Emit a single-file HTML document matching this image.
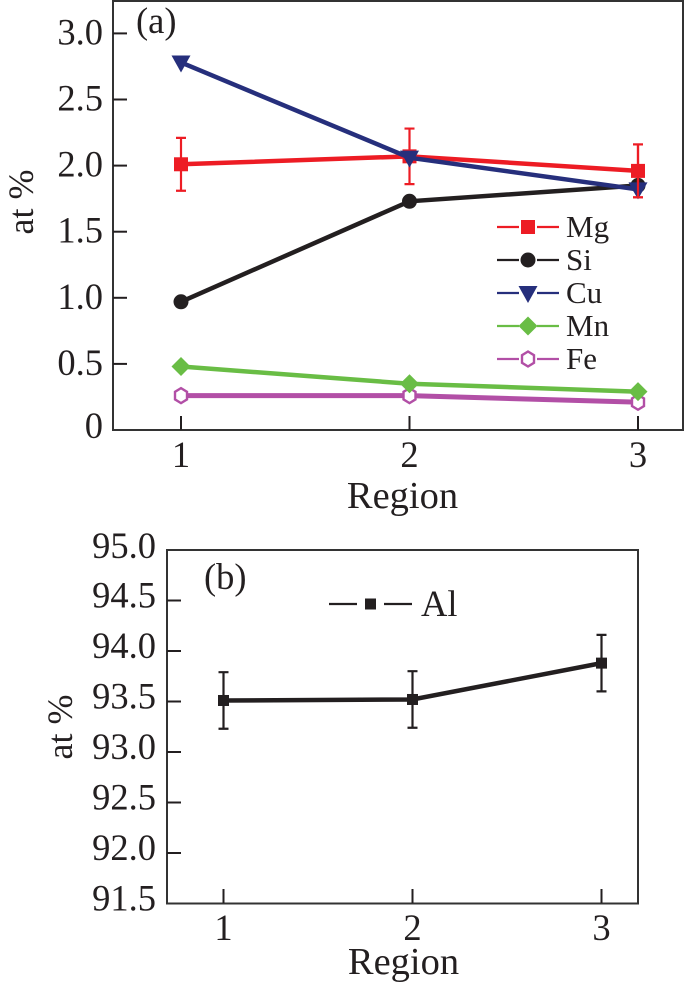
<!DOCTYPE html>
<html><head><meta charset="utf-8">
<style>html,body{margin:0;padding:0;background:#fff;width:685px;height:987px;overflow:hidden}svg{display:block}text{font-family:"Liberation Serif",serif;fill:#231f20}</style>
</head><body>
<svg id="chart" width="685" height="987" viewBox="0 0 685 987" xmlns="http://www.w3.org/2000/svg"></svg>
<script>
const regions = [1, 2, 3];
const ticksA = [0, 0.5, 1, 1.5, 2, 2.5, 3];
const tickLabelsA = ['0', '0.5', '1.0', '1.5', '2.0', '2.5', '3.0'];
const mgValues = [2.01, 2.07, 1.96];
const mgErrors = [0.2, 0.21, 0.2];
const siValues = [0.97, 1.73, 1.85];
const cuValues = [2.78, 2.06, 1.82];
const mnValues = [0.48, 0.35, 0.29];
const feValues = [0.26, 0.26, 0.21];
const ticksB = [91.5, 92, 92.5, 93, 93.5, 94, 94.5, 95];
const tickLabelsB = ['91.5', '92.0', '92.5', '93.0', '93.5', '94.0', '94.5', '95.0'];
const alValues = [93.51, 93.52, 93.88];
const alErrors = [0.28, 0.28, 0.28];
const seriesNames = ['Mg', 'Si', 'Cu', 'Mn', 'Fe'];

const svg = document.getElementById('chart');
const NS = 'http://www.w3.org/2000/svg';
function make(tag, attrs, parent, name) {
  const el = document.createElementNS(NS, tag);
  for (const k in attrs) el.setAttribute(k, attrs[k]);
  
  
  (parent || svg).appendChild(el);
  return el;
}
function label(str, x, y, size, anchor, name, transform) {
  const attrs = {x: x, y: y, 'font-size': size, 'text-anchor': anchor};
  if (transform) attrs.transform = transform;
  const t = make('text', attrs, svg, name);
  t.textContent = str;
  return t;
}
const xA = v => 181 + (v - 1) * 228.5;
const yA = v => 430 - v * 132.2;
const xB = v => 223.5 + (v - 1) * 189;
const yB = v => 903.5 - (v - 91.5) * 101;

function marker(kind, cx, cy, color, name) {
  if (kind === 'square') make('rect', {x: cx - 7, y: cy - 7, width: 14, height: 14, fill: color}, svg, name);
  if (kind === 'smallsquare') make('rect', {x: cx - 5.5, y: cy - 5.5, width: 11, height: 11, fill: color}, svg, name);
  if (kind === 'circle') make('circle', {cx: cx, cy: cy, r: 7.5, fill: color}, svg, name);
  if (kind === 'tri') make('polygon', {points: `${cx-9.5},${cy-7} ${cx+9.5},${cy-7} ${cx},${cy+10}`, fill: color}, svg, name);
  if (kind === 'diamond') make('polygon', {points: `${cx},${cy-9.5} ${cx+9.5},${cy} ${cx},${cy+9.5} ${cx-9.5},${cy}`, fill: color}, svg, name);
  if (kind === 'hex') make('polygon', {points: `${cx},${cy-7.5} ${cx+6},${cy-3.8} ${cx+6},${cy+3.8} ${cx},${cy+7.5} ${cx-6},${cy+3.8} ${cx-6},${cy-3.8}`, fill: '#fff', stroke: color, 'stroke-width': 2.4}, svg, name);
}
function series(vals, xf, yf, color, width, kind, name) {
  const pts = vals.map((v, i) => xf(regions[i]) + ',' + yf(v)).join(' ');
  make('polyline', {points: pts, fill: 'none', stroke: color, 'stroke-width': width}, svg, name + '-line');
  vals.forEach((v, i) => marker(kind, xf(regions[i]), yf(v), color, name + '-point-' + regions[i]));
}
function errors(vals, errs, xf, yf, color, width, name) {
  vals.forEach((v, i) => {
    const x = xf(regions[i]), t = yf(v + errs[i]), b = yf(v - errs[i]);
    make('path', {d: `M${x} ${t}V${b}M${x-5} ${t}H${x+5}M${x-5} ${b}H${x+5}`, fill: 'none', stroke: color, 'stroke-width': width}, svg, name + '-error-' + regions[i]);
  });
}

/* Panel (a) */
make('rect', {x: 113, y: 1, width: 570, height: 429, fill: 'none', stroke: '#333', 'stroke-width': 2}, svg, 'panel-a-frame');
ticksA.forEach((v, i) => {
  if (v > 0) make('line', {x1: 113, x2: 127, y1: yA(v), y2: yA(v), stroke: '#231f20', 'stroke-width': 2}, svg, 'panel-a-y-tick');
  label(tickLabelsA[i], 103, v === 0 ? 438 : yA(v) + 11, 36.5, 'end', 'panel-a-y-label');
});
regions.forEach(r => {
  make('line', {x1: xA(r), x2: xA(r), y1: 416, y2: 430, stroke: '#231f20', 'stroke-width': 2}, svg, 'panel-a-x-tick');
  label(String(r), xA(r), 467, 36.5, 'middle', 'panel-a-x-label');
});
label('Region', 402.5, 508, 38.5, 'middle', 'panel-a-x-title');
label('at %', 33, 202, 36, 'middle', 'panel-a-y-title', 'rotate(-90 33 202)');
label('(a)', 136, 33, 36.5, 'start', 'panel-a-tag');

series(feValues, xA, yA, '#b24fa6', 5, 'hex', 'fe');
series(mnValues, xA, yA, '#69bd45', 4.5, 'diamond', 'mn');
series(siValues, xA, yA, '#231f20', 4.5, 'circle', 'si');
errors(mgValues, mgErrors, xA, yA, '#ed1c24', 2.2, 'mg');
series(mgValues, xA, yA, '#ed1c24', 4.5, 'square', 'mg');
series(cuValues, xA, yA, '#262f7c', 4.5, 'tri', 'cu');
errors([mgValues[2]], [mgErrors[2]], v => xA(3), yA, '#ed1c24', 2.2, 'mg-overlay');

/* Legend */
const legendKinds = ['square', 'circle', 'tri', 'diamond', 'hex'];
const legendColors = ['#ed1c24', '#231f20', '#262f7c', '#69bd45', '#b24fa6'];
seriesNames.forEach((n, i) => {
  const y = 227 + i * 33;
  const key = n.toLowerCase();
  make('line', {x1: 497, x2: 519, y1: y, y2: y, stroke: legendColors[i], 'stroke-width': 2.2}, svg, 'legend-line-left-' + key);
  make('line', {x1: 537, x2: 559, y1: y, y2: y, stroke: legendColors[i], 'stroke-width': 2.2}, svg, 'legend-line-right-' + key);
  marker(legendKinds[i], 528, y, legendColors[i], 'legend-marker-' + key);
  label(n, 566, y + 10, 31, 'start', 'legend-label-' + key);
});

/* Panel (b) */
make('rect', {x: 167, y: 550, width: 471, height: 353.5, fill: 'none', stroke: '#333', 'stroke-width': 2}, svg, 'panel-b-frame');
ticksB.forEach((v, i) => {
  if (v > 91.5 && v < 95) make('line', {x1: 167, x2: 181, y1: yB(v), y2: yB(v), stroke: '#231f20', 'stroke-width': 2}, svg, 'panel-b-y-tick');
  label(tickLabelsB[i], 156, v === 95 ? 558 : yB(v) + 7, 36.5, 'end', 'panel-b-y-label');
});
regions.forEach(r => {
  make('line', {x1: xB(r), x2: xB(r), y1: 889, y2: 903, stroke: '#231f20', 'stroke-width': 2}, svg, 'panel-b-x-tick');
  label(String(r), xB(r), 940, 36.5, 'middle', 'panel-b-x-label');
});
label('Region', 403.5, 974, 38.5, 'middle', 'panel-b-x-title');
label('at %', 72, 727, 36, 'middle', 'panel-b-y-title', 'rotate(-90 72 727)');
label('(b)', 204, 589, 36.5, 'start', 'panel-b-tag');
errors(alValues, alErrors, xB, yB, '#231f20', 2.2, 'al');
series(alValues, xB, yB, '#231f20', 4.5, 'smallsquare', 'al');
make('line', {x1: 329, x2: 357, y1: 604, y2: 604, stroke: '#231f20', 'stroke-width': 2.2}, svg, 'legend-al-line-left');
make('line', {x1: 384, x2: 412, y1: 604, y2: 604, stroke: '#231f20', 'stroke-width': 2.2}, svg, 'legend-al-line-right');
marker('smallsquare', 370.5, 604, '#231f20', 'legend-al-marker');
label('Al', 421, 616, 36.5, 'start', 'legend-al-label');
</script>
</body></html>
